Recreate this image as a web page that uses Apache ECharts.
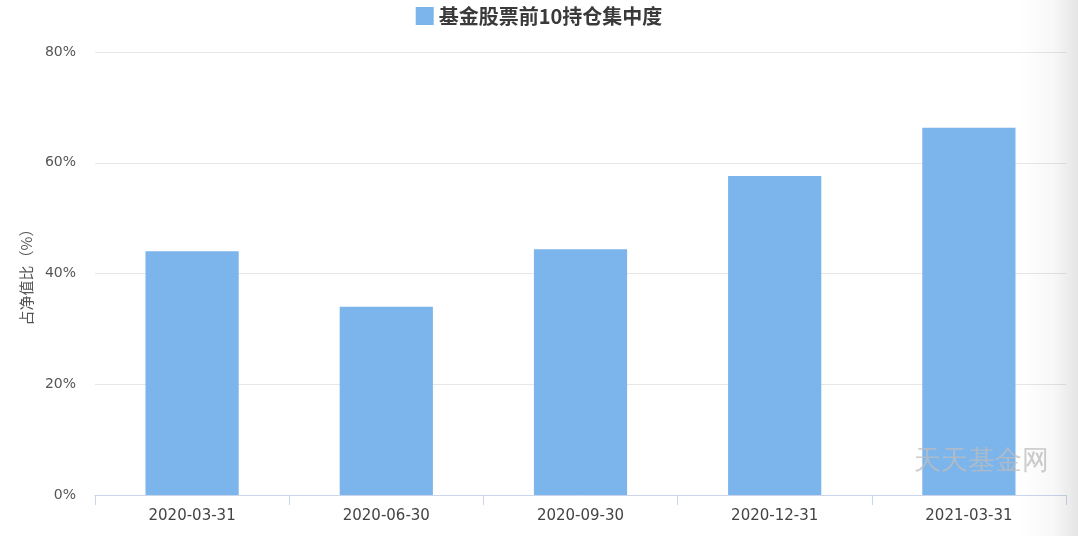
<!DOCTYPE html>
<html><head><meta charset="utf-8">
<script src="https://cdn.jsdelivr.net/npm/echarts@6/dist/echarts.min.js"></script>
<style>html,body{margin:0;padding:0;background:#fff}#c{width:1078px;height:536px}</style>
</head><body><div id="c"></div>
<script>
const categories = ['2020-03-31','2020-06-30','2020-09-30','2020-12-31','2021-03-31'];
const concentration = [44.0, 34.0, 44.4, 57.6, 66.3];
const seriesName = '基金股票前10持仓集中度';
const yAxisName = '占净值比（%）';
const watermark = '天天基金网';

const font = '"DejaVu Sans", "Noto Sans CJK SC", sans-serif';
const cjk = '"Noto Sans CJK SC", "DejaVu Sans", sans-serif';
const chart = echarts.init(document.getElementById('c'));
chart.setOption({
  animation: false,
  textStyle: {fontFamily: font},
  legend: {
    top: 1, left: 'center', itemWidth: 18, itemHeight: 18, itemGap: 9,
    icon: 'rect',
    textStyle: {fontSize: 20, fontWeight: 'bold', color: '#3a3a3a', fontFamily: cjk},
    data: [seriesName]
  },
  grid: {left: 95, right: 12, top: 52, bottom: 41, containLabel: false},
  xAxis: {
    type: 'category', data: categories, boundaryGap: true,
    axisLine: {lineStyle: {color: '#ccd6eb', width: 1}},
    axisTick: {show: true, length: 10, lineStyle: {color: '#ccd6eb'}},
    axisLabel: {color: '#444', fontSize: 15, margin: 14, fontFamily: font}
  },
  yAxis: {
    type: 'value', min: 0, max: 80, interval: 20,
    name: yAxisName, nameLocation: 'middle', nameGap: 58, nameRotate: 90,
    nameTextStyle: {color: '#555', fontSize: 15, fontFamily: cjk},
    axisLine: {show: false}, axisTick: {show: false},
    axisLabel: {formatter: '{value}%', color: '#555', fontSize: 14, margin: 19, fontFamily: font},
    splitLine: {lineStyle: {color: '#e6e6e6'}}
  },
  series: [{
    name: seriesName, type: 'bar', data: concentration, barWidth: '48%',
    itemStyle: {color: '#7cb5ec'}
  }],
  graphic: [
    {type: 'text', left: 914, top: 448, z: 100,
     style: {text: watermark, fontSize: 27, fill: 'rgba(190,190,190,0.75)', fontFamily: 'serif'}},
    {type: 'rect', shape: {x: 1020, y: 0, width: 58, height: 536}, z: 200, silent: true,
     style: {fill: new echarts.graphic.LinearGradient(0, 0, 1, 0, [
       {offset: 0, color: 'rgba(0,0,0,0)'},
       {offset: 0.6, color: 'rgba(0,0,0,0.03)'},
       {offset: 1, color: 'rgba(0,0,0,0.1)'}
     ])}}
  ]
});
</script></body></html>
